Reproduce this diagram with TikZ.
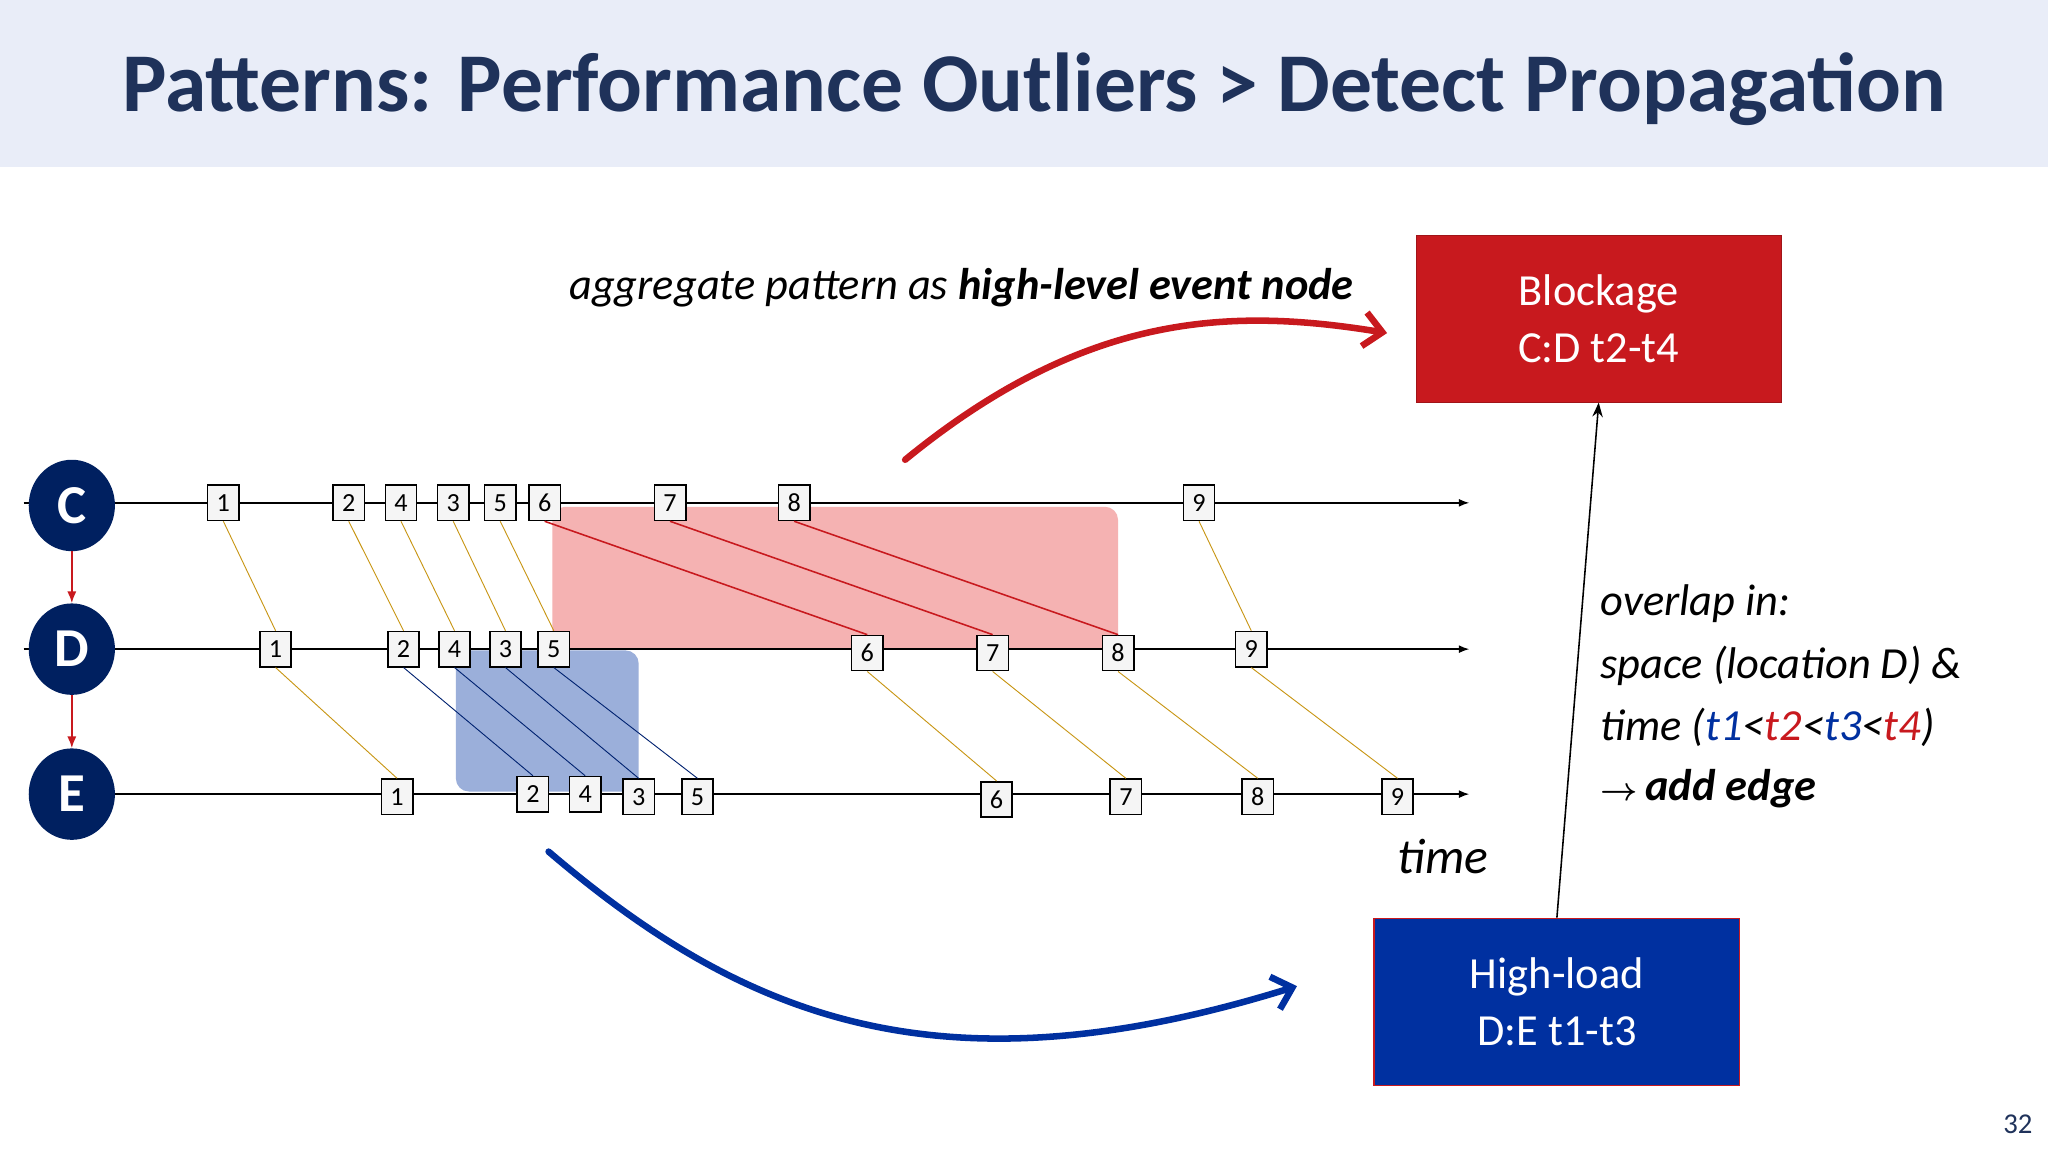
\documentclass[tikz,border=0pt]{standalone}
\usepackage{amsmath}
\usepackage{fontspec}
\setmainfont{Carlito}
\usetikzlibrary{arrows.meta,shapes.geometric}
\definecolor{navy}{RGB}{0,32,96}
\definecolor{titlebg}{RGB}{233,237,248}
\definecolor{titlefg}{RGB}{31,50,90}
\definecolor{bred}{RGB}{200,25,30}
\definecolor{bblue}{RGB}{0,48,160}
\definecolor{gold}{RGB}{200,150,20}
\definecolor{pinkf}{RGB}{245,178,178}
\definecolor{bluef}{RGB}{155,175,218}
\definecolor{tblue}{RGB}{0,48,160}
\definecolor{tred}{RGB}{200,25,30}
\begin{document}
\begin{tikzpicture}[x=1pt,y=-1pt,
  ev/.style={draw,line width=1.2pt,fill=gray!8,minimum width=24pt,minimum height=27pt,inner sep=0pt,font=\fontsize{20}{20}\selectfont},
  loc/.style={ellipse,fill=navy,minimum width=66pt,minimum height=70pt,inner sep=0pt,text=white,font=\fontsize{42}{42}\selectfont\bfseries},
  tl/.style={line width=1.2pt,-{Latex[length=8pt,width=6pt]}},
  gl/.style={gold,line width=0.7pt},
  rl/.style={bred,line width=1.2pt},
  bl/.style={bblue!70!black,line width=0.7pt},
  big/.style={draw,minimum width=280pt,minimum height=128pt,text=white,align=center,font=\fontsize{34}{44}\selectfont},
  it/.style={font=\fontsize{34}{42}\selectfont\itshape,anchor=west}]
\useasboundingbox (0,0) rectangle (1568,882);
\fill[white] (0,0) rectangle (1568,882);
\fill[titlebg] (0,0) rectangle (1568,128);
\node[text=titlefg,font=\fontsize{64}{64}\selectfont\bfseries] (title) at (792,68) {Patterns: Performance Outliers > Detect Propagation};
% highlights
\fill[pinkf,rounded corners=10pt] (423,388) rectangle (856,497);
\fill[bluef,rounded corners=10pt] (349,498) rectangle (489,606);
% time lines
\coordinate (cs) at (18,385); \coordinate (ce) at (1125,385);
\coordinate (ds) at (18,497); \coordinate (de) at (1125,497);
\coordinate (es) at (88,608); \coordinate (ee) at (1125,608);
\draw[tl] (cs) -- (ce);
\draw[tl] (ds) -- (de);
\draw[tl] (es) -- (ee);
% location nodes
\node[loc] (C) at (55,387) {C};
\node[loc] (D) at (55,497) {D};
\node[loc] (E) at (55,608) {E};
\draw[bred,line width=1.2pt,-{Latex[length=9pt,width=7pt]}] (C) -- (D);
\draw[bred,line width=1.2pt,-{Latex[length=9pt,width=7pt]}] (D) -- (E);
% events
\foreach \n/\x in {1/171,2/267,4/307,3/347,5/383,6/417,7/513,8/608,9/918} \node[ev] (c\n) at (\x,385) {\n};
\foreach \n/\x/\y in {1/211/497,2/309/497,4/348/497,3/387/497,5/424/497,6/664/500,7/760/500,8/856/500,9/958/497} \node[ev] (d\n) at (\x,\y) {\n};
\foreach \n/\x/\y in {1/304/610,2/408/608,4/448/608,3/489/610,5/534/610,6/763/612,7/862/610,8/963/610,9/1070/610} \node[ev] (e\n) at (\x,\y) {\n};
\foreach \n in {1,2,4,3,5,9} \draw[gl] (c\n.south) -- (d\n.north);
\foreach \n in {6,7,8} \draw[rl] (c\n.south) -- (d\n.north);
\foreach \n in {1,6,7,8,9} \draw[gl] (d\n.south) -- (e\n.north);
\foreach \n in {2,4,3,5} \draw[bl] (d\n.south) -- (e\n.north);
% big nodes
\node[big,fill=bred,draw=bred!80!black] (block) at (1224,244) {Blockage\\C:D t2-t4};
\node[big,fill=bblue,draw=bred,line width=1pt] (high) at (1192,767) {High-load\\D:E t1-t3};
\draw[line width=1.2pt,-{Stealth[length=11pt,width=8pt]}] (high.north) -- (block.south);
% curved arrows
\coordinate (r0) at (693,352); \coordinate (r1) at (1062,255);
\draw[bred,line width=5pt,line cap=round,-{Straight Barb[length=14pt,width=26pt,line width=5pt]}] (r0) .. controls (830,240) and (940,235) .. (r1);
\coordinate (b0) at (420,652); \coordinate (b1) at (993,755);
\draw[bblue,line width=5pt,line cap=round,-{Straight Barb[length=14pt,width=26pt,line width=5pt]}] (b0) .. controls (570,780) and (720,840) .. (b1);
% texts
\node[font=\fontsize{34}{42}\selectfont\itshape,anchor=east] (agg) at (1040,220) {aggregate pattern as \textbf{high-level event node}};
\node[font=\fontsize{38}{42}\selectfont\itshape] (time) at (1105,656) {time};
\node[it] (o1) at (1222,462) {overlap in:};
\node[it] (o2) at (1222,510) {space (location D) \&};
\node[it] (o3) at (1222,557) {time (\textcolor{tblue}{t1}<\textcolor{tred}{t2}<\textcolor{tblue}{t3}<\textcolor{tred}{t4})};
\node[it] (o4) at (1222,604) {$\boldsymbol{\rightarrow}$\,\textbf{add edge}};
\node[font=\fontsize{22}{22}\selectfont,text=titlefg] (pg) at (1545,861) {32};
\end{tikzpicture}
\end{document}
